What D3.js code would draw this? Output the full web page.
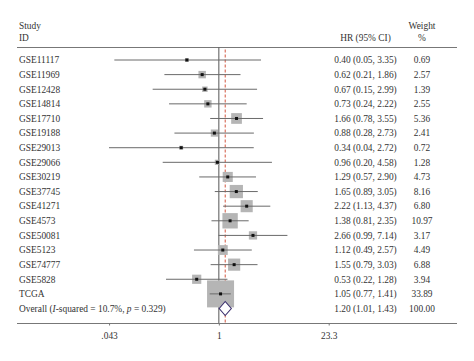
<!DOCTYPE html>
<html>
<head>
<meta charset="utf-8">
<script src="https://cdn.jsdelivr.net/npm/d3@7"></script>
<style>
  body { margin: 0; background: #fff; }
  text { font-family: 'Liberation Serif', 'DejaVu Serif', serif; fill: #333; }
</style>
</head>
<body>
<main></main>
<script>
// study data
const studies = ['GSE11117', 'GSE11969', 'GSE12428', 'GSE14814', 'GSE17710', 'GSE19188', 'GSE29013', 'GSE29066',
  'GSE30219', 'GSE37745', 'GSE41271', 'GSE4573', 'GSE50081', 'GSE5123', 'GSE74777', 'GSE5828', 'TCGA']
const hr = [0.40, 0.62, 0.67, 0.73, 1.66, 0.88, 0.34, 0.96, 1.29, 1.65, 2.22, 1.38, 2.66, 1.12, 1.55, 0.53, 1.05]
const lower = [0.05, 0.21, 0.15, 0.24, 0.78, 0.28, 0.04, 0.20, 0.57, 0.89, 1.13, 0.81, 0.99, 0.49, 0.79, 0.22, 0.77]
const upper = [3.35, 1.86, 2.99, 2.22, 3.55, 2.73, 2.72, 4.58, 2.90, 3.05, 4.37, 2.35, 7.14, 2.57, 3.03, 1.28, 1.41]
const weights = [0.69, 2.57, 1.39, 2.55, 5.36, 2.41, 0.72, 1.28, 4.73, 8.16, 6.80, 10.97, 3.17, 4.49, 6.88, 3.94, 33.89]
// pooled estimate
const overallLabel = 'Overall'
const overall = { hr: 1.20, lower: 1.01, upper: 1.43, weight: 100.00, i2: '10.7%', p: '0.329' }
// axis ticks
const tickValues = [0.043, 1, 23.3]
const tickLabels = ['.043', '1', '23.3']

const W = 474
const H = 361
const fmt = d3.format('.2f')

const svg = d3.select('main')
  .append('svg')
  .attr('width', W)
  .attr('height', H)

const x = d3.scaleLog()
  .domain([1 / 23.3, 23.3])
  .range([109, 328.7])
  .clamp(true)

const rowIdx = d3.range(studies.length + 1)
const y = d3.scalePoint()
  .domain(rowIdx)
  .range([60, 308.5])

const boxSize = d3.scaleSqrt()
  .domain([0, 33.89])
  .range([0, 27])

const fs = 9.4
const topLine = 47.5
const axisY = 323.5

// header
svg.append('text').attr('x', 19).attr('y', 29).style('font-size', fs + 'px').text('Study')
svg.append('text').attr('x', 19).attr('y', 41).style('font-size', fs + 'px').text('ID')
svg.append('text').attr('x', 365.5).attr('y', 41).attr('text-anchor', 'middle').style('font-size', fs + 'px').text('HR (95% CI)')
svg.append('text').attr('x', 422).attr('y', 29).attr('text-anchor', 'middle').style('font-size', fs + 'px').text('Weight')
svg.append('text').attr('x', 422).attr('y', 41).attr('text-anchor', 'middle').style('font-size', fs + 'px').text('%')

// rules
svg.append('line')
  .attr('x1', 17).attr('x2', 457)
  .attr('y1', topLine).attr('y2', topLine)
  .style('stroke', '#777').style('stroke-width', '1px')

// null line and pooled line
svg.append('line')
  .attr('x1', x(1)).attr('x2', x(1))
  .attr('y1', topLine).attr('y2', axisY)
  .style('stroke', '#555').style('stroke-width', '1px')
svg.append('line')
  .attr('x1', x(overall.hr)).attr('x2', x(overall.hr))
  .attr('y1', topLine + 2).attr('y2', axisY)
  .style('stroke', '#d2553f').style('stroke-width', '1px')
  .style('stroke-dasharray', '3,2')

const rows = studies.map((s, i) => ({ id: s, hr: hr[i], lo: lower[i], hi: upper[i], w: weights[i], i: i }))

// boxes
svg.selectAll('.box')
  .data(rows)
  .enter()
  .append('rect')
  .attr('class', 'box')
  .attr('x', d => x(d.hr) - boxSize(d.w) / 2)
  .attr('y', d => y(d.i) - boxSize(d.w) / 2)
  .attr('width', d => boxSize(d.w))
  .attr('height', d => boxSize(d.w))
  .style('fill', '#b5b5b5')

// confidence intervals
svg.selectAll('.ci')
  .data(rows)
  .enter()
  .append('line')
  .attr('class', 'ci')
  .attr('x1', d => x(d.lo))
  .attr('x2', d => x(d.hi))
  .attr('y1', d => y(d.i))
  .attr('y2', d => y(d.i))
  .style('stroke', '#6a6a6a')
  .style('stroke-width', '1px')

// point estimates
svg.selectAll('.pt')
  .data(rows)
  .enter()
  .append('rect')
  .attr('class', 'pt')
  .attr('x', d => x(d.hr) - 1.5)
  .attr('y', d => y(d.i) - 1.5)
  .attr('width', 3)
  .attr('height', 3)
  .style('fill', '#111')

// diamond for pooled estimate
const oy = y(studies.length)
svg.append('path')
  .attr('d', 'M' + x(overall.lower) + ',' + oy +
    'L' + x(overall.hr) + ',' + (oy - 7) +
    'L' + x(overall.upper) + ',' + oy +
    'L' + x(overall.hr) + ',' + (oy + 7) + 'Z')
  .style('fill', '#fff')
  .style('stroke', '#3b2f6e')
  .style('stroke-width', '1.1px')

// left labels
svg.selectAll('.lab')
  .data(rows)
  .enter()
  .append('text')
  .attr('class', 'lab')
  .attr('x', 19)
  .attr('y', d => y(d.i) + 3.3)
  .style('font-size', fs + 'px')
  .text(d => d.id)

const ov = svg.append('text')
  .attr('x', 19)
  .attr('y', oy + 3.3)
  .style('font-size', fs + 'px')
ov.append('tspan').text(overallLabel + ' (')
ov.append('tspan').style('font-style', 'italic').text('I')
ov.append('tspan').text('-squared = ' + overall.i2 + ', ')
ov.append('tspan').style('font-style', 'italic').text('p')
ov.append('tspan').text(' = ' + overall.p + ')')

// HR text and weights
svg.selectAll('.hrt')
  .data(rows)
  .enter()
  .append('text')
  .attr('class', 'hrt')
  .attr('x', 365.5)
  .attr('y', d => y(d.i) + 3.3)
  .attr('text-anchor', 'middle')
  .style('font-size', fs + 'px')
  .text(d => fmt(d.hr) + ' (' + fmt(d.lo) + ', ' + fmt(d.hi) + ')')
svg.append('text')
  .attr('x', 365.5)
  .attr('y', oy + 3.3)
  .attr('text-anchor', 'middle')
  .style('font-size', fs + 'px')
  .text(fmt(overall.hr) + ' (' + fmt(overall.lower) + ', ' + fmt(overall.upper) + ')')

svg.selectAll('.wt')
  .data(rows)
  .enter()
  .append('text')
  .attr('class', 'wt')
  .attr('x', 422)
  .attr('y', d => y(d.i) + 3.3)
  .attr('text-anchor', 'middle')
  .style('font-size', fs + 'px')
  .text(d => fmt(d.w))
svg.append('text')
  .attr('x', 422)
  .attr('y', oy + 3.3)
  .attr('text-anchor', 'middle')
  .style('font-size', fs + 'px')
  .text(fmt(overall.weight))

// bottom axis
svg.append('line')
  .attr('x1', 17).attr('x2', 457)
  .attr('y1', axisY).attr('y2', axisY)
  .style('stroke', '#777').style('stroke-width', '1px')
const axis = svg.append('g')
  .attr('transform', 'translate(0,' + axisY + ')')
  .call(d3.axisBottom(x)
    .tickValues(tickValues)
    .tickFormat((d, i) => tickLabels[i])
    .tickSize(2)
    .tickPadding(7))
axis.select('.domain').remove()
axis.selectAll('line').style('stroke', '#777')
axis.selectAll('text')
  .style('font-family', "'Liberation Serif', serif")
  .style('font-size', fs + 'px')
  .style('fill', '#333')
</script>
</body>
</html>
